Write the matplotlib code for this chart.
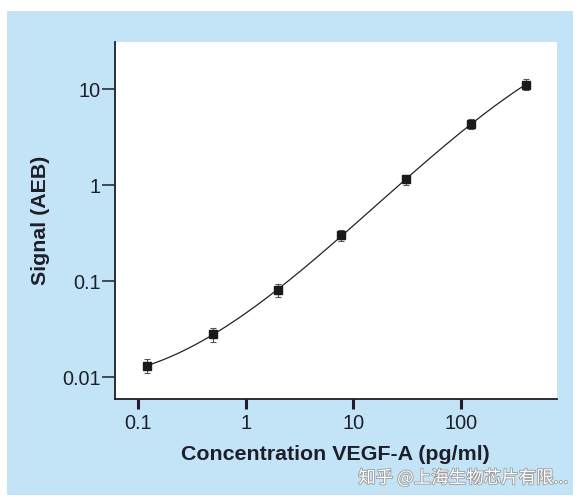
import numpy as np
import matplotlib
matplotlib.use("Agg")
import matplotlib.pyplot as plt
from matplotlib.patches import Rectangle
import matplotlib.patheffects as pe

# Data
concentration = [0.121, 0.49, 1.98, 7.7, 31.0, 124.0, 400.0]
signal = [0.0132, 0.028, 0.081, 0.30, 1.15, 4.4, 11.2]
rel_error = [0.17, 0.17, 0.15, 0.13, 0.12, 0.12, 0.13]
x_ticks = [0.1, 1, 10, 100]
x_ticklabels = ["0.1", "1", "10", "100"]
y_ticks = [0.01, 0.1, 1, 10]
y_ticklabels = ["0.01", "0.1", "1", "10"]
x_label = "Concentration VEGF-A (pg/ml)"
y_label = "Signal (AEB)"
watermark = "知乎 @上海生物芯片有限..."

plt.rcParams['font.family'] = ['Liberation Sans', 'DejaVu Sans']
text_color = "#1e1e2a"

fig = plt.figure(figsize=(5.84, 5.03), dpi=100)
fig.patch.set_facecolor("white")
fig.add_artist(Rectangle((7/584, 8/503), (573-7)/584, (492-8)/503,
                         transform=fig.transFigure, facecolor="#c3e4f6",
                         edgecolor="none", zorder=0))

ax = fig.add_axes([114.7/584, 1-399/503, (557-114.7)/584, (399-42)/503])
ax.set_facecolor("white")
ax.set_xscale("log")
ax.set_yscale("log")
ax.set_xlim(0.0604, 780)
ax.set_ylim(0.00594, 31.1)

x = np.array(concentration)
y = np.array(signal)
err = y * np.array(rel_error)

# smooth fitted curve in log-log space
coef = np.polyfit(np.log10(x), np.log10(y), 3)
xs = np.logspace(np.log10(x[0]), np.log10(x[-1]), 200)
ys = 10 ** np.polyval(coef, np.log10(xs))
ax.plot(xs, ys, color="#222222", lw=0.9, zorder=2)

ax.errorbar(x, y, yerr=err, fmt="none", ecolor="#555555", elinewidth=0.8,
            capsize=2.4, capthick=0.8, zorder=3)
ax.plot(x, y, "s", color="#1a1a1a", markersize=5.3, zorder=4)

ax.set_xticks(x_ticks)
ax.set_xticklabels(x_ticklabels)
ax.set_yticks(y_ticks)
ax.set_yticklabels(y_ticklabels)
ax.minorticks_off()
ax.tick_params(axis="x", direction="out", length=7.5, width=2.2,
               color=text_color, labelsize=14.3, labelcolor=text_color, pad=3)
ax.tick_params(axis="y", direction="out", length=9.5, width=1.1,
               color=text_color, labelsize=14.3, labelcolor=text_color, pad=0.5)

for s in ["top", "right"]:
    ax.spines[s].set_visible(False)
for s in ["left", "bottom"]:
    ax.spines[s].set_color(text_color)
    ax.spines[s].set_linewidth(1.3)

ax.set_xlabel(x_label, fontsize=15.4, fontweight="bold", color=text_color, labelpad=9)
ax.set_ylabel(y_label, fontsize=15.4, fontweight="bold", color=text_color, labelpad=9)

fig.text(568/584, 1-478/503, watermark, ha="right", va="center", fontsize=12.6,
         color="white", family=["Noto Sans CJK SC", "DejaVu Sans"],
         path_effects=[pe.withStroke(linewidth=1.2, foreground="#999999")])

fig.savefig("out.png", dpi=100)
